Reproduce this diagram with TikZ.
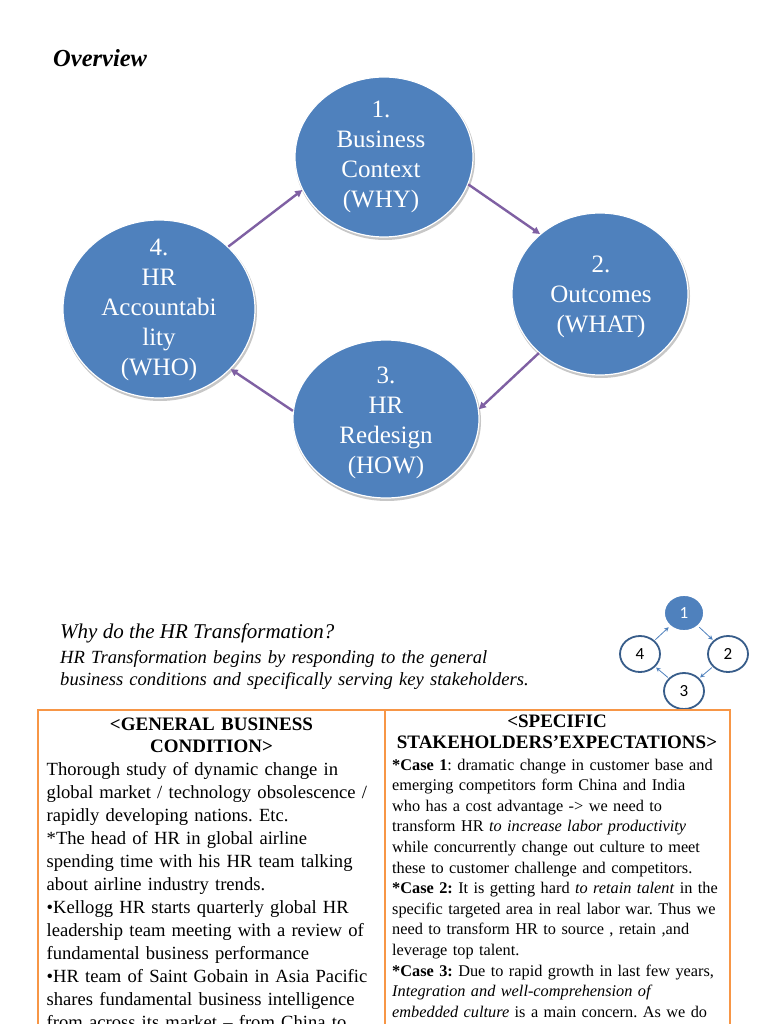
\documentclass[tikz,border=0pt]{standalone}
\usepackage{fontspec}
\setmainfont{Liberation Serif}
\newfontfamily\carlito{Carlito}
\usetikzlibrary{shapes.geometric,arrows.meta}
\definecolor{cblue}{HTML}{4F81BD}
\definecolor{cpurple}{HTML}{7F60A3}
\definecolor{corange}{HTML}{F79646}
\definecolor{dblue}{HTML}{385D8A}
\frenchspacing
\begin{document}
\begin{tikzpicture}[x=1pt,y=-1pt,
  bigc/.style={ellipse, fill=cblue, draw=white, line width=1.2pt, inner sep=0pt},
  shad/.style={ellipse, fill=black!22, inner sep=0pt},
  ctext/.style={text=white, align=center, inner sep=0pt, font=\fontsize{25}{30}\selectfont},
  arr/.style={draw=cpurple, line width=2.4pt, -{Triangle[length=7pt,width=7pt]}},
  smallc/.style={ellipse, draw=dblue, line width=1.8pt, fill=white, minimum width=40pt, minimum height=36pt, inner sep=0pt, font=\carlito\fontsize{17}{20}\selectfont},
  sarr/.style={draw=cblue, line width=0.8pt, -{Stealth[length=4.5pt,width=4.5pt]}, shorten >=1pt, shorten <=1pt},
  txt/.style={inner sep=0pt, anchor=base west, align=left},
  head/.style={inner sep=0pt, anchor=base, align=center, text width=330pt, font=\bfseries\fontsize{19}{22}\selectfont},
  tline/.style={draw=corange, line width=1.5pt}
]
\useasboundingbox (0,0) rectangle (768,1024);
\clip (0,0) rectangle (768,1024);
\fill[white] (0,0) rectangle (768,1024);

% title
\node[txt, font=\bfseries\itshape\fontsize{24.5}{28}\selectfont] (ov) at (53,67) {Overview};

% shadows
\node[shad, minimum width=180pt, minimum height=162pt] (s1sh) at (385,159) {};
\node[shad, minimum width=178pt, minimum height=164pt] (s2sh) at (601,296) {};
\node[shad, minimum width=188pt, minimum height=160pt] (s3sh) at (387,421) {};
\node[shad, minimum width=194pt, minimum height=180pt] (s4sh) at (160,311) {};

% big circles
\node[bigc, minimum width=178pt, minimum height=160pt] (c1) at (384,157) {};
\node[bigc, minimum width=176pt, minimum height=162pt] (c2) at (600,294) {};
\node[bigc, minimum width=186pt, minimum height=158pt] (c3) at (386,419) {};
\node[bigc, minimum width=192pt, minimum height=178pt] (c4) at (159,309) {};

\node[ctext] (t1) at (381,157) {1.\\Business\\Context\\(WHY)};
\node[ctext] (t2) at (601,297) {2.\\Outcomes\\(WHAT)};
\node[ctext] (t3) at (386,423) {3.\\HR\\Redesign\\(HOW)};
\node[ctext] (t4) at (159,310) {4.\\HR\\Accountabi\\lity\\(WHO)};

\draw[arr] (c4.42) -- (c1.202);
\draw[arr] (c1.342) -- (c2.135);
\draw[arr] (c2.224) -- (c3.6);
\draw[arr] (c3.175) -- (c4.320);

% why section
\node[txt, font=\itshape\fontsize{21}{24}\selectfont] (why) at (60,638) {Why do the HR Transformation?};
\node[txt, text width=520pt, font=\itshape\fontsize{18.6}{22.8}\selectfont] (whyb) at (60,663) {HR Transformation begins by responding to the general\\business conditions and specifically serving key stakeholders.};

% small diagram
\node[smallc, fill=cblue, draw=white, text=white] (s1) at (684,613) {1};
\node[smallc] (s2) at (728,654) {2};
\node[smallc] (s3) at (684,691) {3};
\node[smallc] (s4) at (640,654) {4};
\draw[sarr] (s4) -- (s1);
\draw[sarr] (s1) -- (s2);
\draw[sarr] (s2) -- (s3);
\draw[sarr] (s3) -- (s4);

% table
\draw[tline] (38,1032) -- (38,710) -- (730,710) -- (730,1032);
\draw[tline] (385,710) -- (385,1032);

\node[head] (gh) at (211.5,730) {<GENERAL BUSINESS\\CONDITION>};
\node[head, font=\bfseries\fontsize{19}{21}\selectfont] (sh) at (557,727) {<SPECIFIC\\STAKEHOLDERS’EXPECTATIONS>};

\node[txt, text width=370pt, font=\fontsize{18.6}{23}\selectfont] (gbody) at (46.5,775) {Thorough study of dynamic change in\\
global market / technology obsolescence /\\
rapidly developing nations. Etc.\\
{*}The head of HR in global airline\\
spending time with his HR team talking\\
about airline industry trends.\\
\textbullet Kellogg HR starts quarterly global HR\\
leadership team meeting with a review of\\
fundamental business performance\\
\textbullet HR team of Saint Gobain in Asia Pacific\\
shares fundamental business intelligence\\
from across its market – from China to};

\node[txt, text width=380pt, font=\fontsize{16.3}{20.6}\selectfont] (sbody) at (392,770) {\textbf{*Case 1}: dramatic change in customer base and\\
emerging competitors form China and India\\
who has a cost advantage -> we need to\\
transform HR \textit{to increase labor productivity}\\
while concurrently change out culture to meet\\
these to customer challenge and competitors.\\
\textbf{*Case 2:} It is getting hard \textit{to retain talent} in the\\
specific targeted area in real labor war. Thus we\\
need to transform HR to source , retain ,and\\
leverage top talent.\\
\textbf{*Case 3:} Due to rapid growth in last few years,\\
\textit{Integration and well-comprehension of}\\
\textit{embedded culture} is a main concern. As we do};
\end{tikzpicture}
\end{document}
